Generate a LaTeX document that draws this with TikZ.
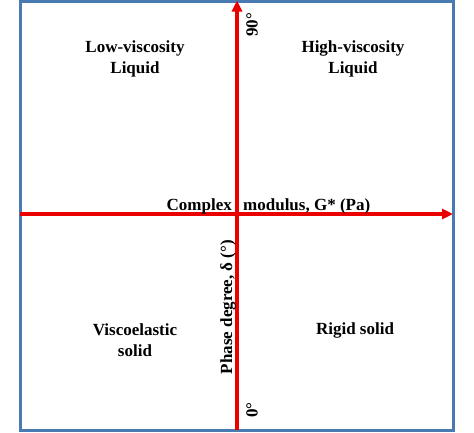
\documentclass[tikz,border=0pt]{standalone}
\usepackage{fontspec}
\setmainfont{Liberation Serif}
\usetikzlibrary{arrows.meta}
\definecolor{framec}{RGB}{74,122,178}
\definecolor{axisred}{RGB}{235,0,0}
\begin{document}
\begin{tikzpicture}[x=1pt,y=-1pt,
  lbl/.style={font=\bfseries\fontsize{17}{21}\selectfont,align=center,inner sep=0pt},
  axlbl/.style={font=\bfseries\fontsize{17}{20}\selectfont,inner sep=0pt},
  axis/.style={draw=axisred,line width=3.5pt,-{Triangle[length=11pt,width=10pt]}}]
\useasboundingbox (0,0) rectangle (474,432);
\draw[framec,line width=3pt] (20,1.5) rectangle (453,430.5);
\coordinate (vb) at (237,430);
\coordinate (vt) at (237,0.5);
\coordinate (hl) at (20,214);
\coordinate (hr) at (453,214);
\draw[axis] (hl) -- (hr);
\draw[axis] (vb) -- (vt);
\node[lbl] (lv) at (135,59) {Low-viscosity\\Liquid};
\node[lbl] (hv) at (353,59) {High-viscosity\\Liquid};
\node[lbl] (ve) at (135,340) {Viscoelastic\\solid};
\node[lbl] (rs) at (355,330) {Rigid solid};
\node[axlbl,anchor=base east] (cx) at (232,210) {Complex};
\node[axlbl,anchor=base west] (md) at (243,210) {modulus, G* (Pa)};
\node[axlbl,rotate=90] (ph) at (228,307) {Phase degree, δ (°)};
\node[axlbl,rotate=90] (n90) at (252,25) {90°};
\node[axlbl,rotate=90] (n0) at (252,410) {0°};
\end{tikzpicture}
\end{document}
